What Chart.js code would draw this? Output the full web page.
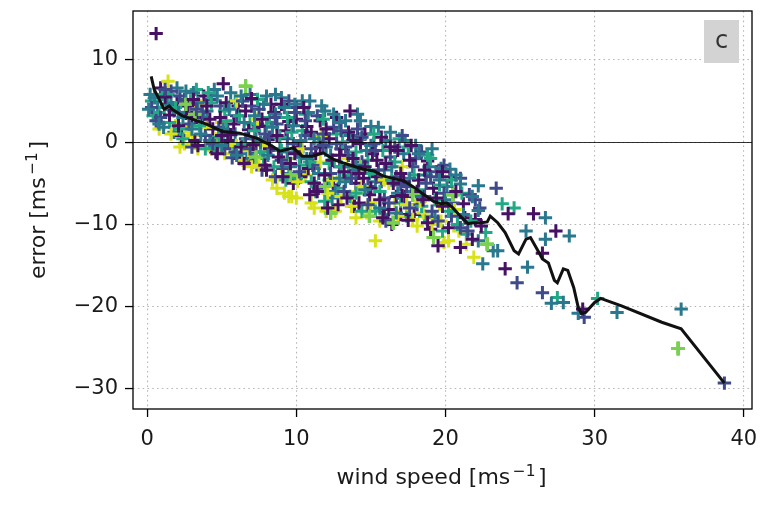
<!DOCTYPE html>
<html><head><meta charset="utf-8">
<script src="https://cdn.jsdelivr.net/npm/chart.js@4"></script>
<style>html,body{margin:0;padding:0;background:#fff}#wrap{width:767px;height:507px;position:relative}</style>
</head><body><div id="wrap"><canvas id="c" width="767" height="507"></canvas></div>
<script>
// ---- tick labels / axis text ----
const xTickValues = [0, 10, 20, 30, 40];
const yTickValues = [-30, -20, -10, 0, 10];
const xTitleBase = 'wind speed [ms';
const yTitleBase = 'error [ms';
const unitSup = '\u22121';
const unitClose = ']';
const panelLabel = 'c';

// ---- running mean line ----
const meanSpeed = [0.27,0.47,0.81,1.14,1.48,1.68,2.36,3.03,3.97,5.05,6.2,7.34,8.4,8.9,9.8,10.4,11.1,11.8,12.5,13.1,13.8,14.5,15.2,15.8,16.5,17.2,17.9,18.5,19.2,19.7,20.1,20.5,21.0,21.5,21.9,22.4,22.8,23.0,23.5,24.0,24.6,24.9,25.4,25.7,26.2,26.5,26.9,27.3,27.5,27.9,28.2,28.6,28.9,29.1,29.4,30.0,30.4,31.8,34.5,35.8,38.7];
const meanError = [8.0,6.4,5.2,4.0,4.4,4.0,3.2,2.8,2.2,1.3,1.1,0.5,-0.5,-1.1,-0.7,-1.7,-1.7,-1.3,-2.1,-2.5,-2.9,-3.3,-3.5,-4.1,-4.4,-4.7,-5.5,-6.3,-7.2,-7.5,-7.4,-8.0,-9.0,-9.9,-9.8,-9.8,-9.7,-9.0,-9.8,-11.0,-13.2,-13.6,-11.8,-11.6,-13.2,-14.2,-14.7,-16.8,-17.1,-15.4,-15.6,-17.7,-20.1,-20.8,-20.7,-19.5,-19.0,-19.9,-21.9,-22.7,-29.3];

// ---- scatter points, grouped by colour class: [wind speed, error] ----
const purplePts = [[0.6,13.2],[5.1,7.1],[13.6,3.8],[9.0,4.6],[1.2,5.5],[2.0,4.8],[2.6,3.5],[3.1,5.2],[3.6,2.4],[4.0,4.4],[4.4,1.6],[4.9,3.0],[5.4,0.2],[5.8,2.2],[6.3,-0.6],[6.1,4.4],[6.8,1.5],[7.0,5.3],[7.3,-1.2],[7.7,2.8],[8.1,0.3],[8.5,3.6],[8.8,-1.8],[9.3,1.4],[9.6,-2.6],[10.0,2.8],[10.2,-0.6],[10.5,4.2],[10.8,-3.2],[11.0,1.2],[11.3,-1.4],[11.6,2.6],[11.9,-4.0],[12.2,0.4],[12.4,-2.2],[12.7,3.0],[13.0,-0.8],[13.2,-3.6],[13.5,1.2],[13.8,-2.0],[14.0,-5.0],[14.3,-0.2],[14.6,-3.0],[14.9,-6.4],[15.1,-1.4],[15.4,-4.2],[15.7,0.6],[16.0,-2.6],[16.2,-8.2],[16.5,-5.0],[16.4,-10.0],[16.8,-1.0],[17.0,-3.8],[17.3,-6.6],[17.6,-2.2],[17.9,-8.8],[18.2,-4.6],[18.5,-7.0],[18.8,-2.3],[18.8,-9.8],[19.2,-5.6],[19.5,-12.6],[19.8,-7.8],[20.3,-4.2],[21.0,-12.8],[21.2,-7.5],[22.0,-9.4],[24.2,-8.7],[24.0,-15.4],[25.9,-8.7],[26.5,-13.5],[27.4,-10.8],[29.2,-20.3],[2.3,0.8],[3.4,-0.4],[4.6,-1.2],[6.5,-2.6],[8.0,-3.4],[9.8,-5.0],[11.4,-6.0],[12.8,-7.6],[14.2,-7.4],[15.8,-9.2],[17.5,-9.5],[17.1,-6.5]];
const purpleMore = [[0.9,6.6],[1.5,3.3],[2.1,2.0],[2.7,4.4],[3.2,0.2],[3.8,5.6],[4.2,2.8],[4.7,-1.4],[5.3,4.8],[5.6,0.9],[6.2,-2.0],[6.6,3.8],[7.1,-0.3],[7.5,1.9],[7.9,-2.8],[8.3,4.6],[8.7,0.8],[9.1,-4.2],[9.5,2.5],[9.9,-1.4],[10.3,-4.2],[10.7,1.9],[11.2,-5.0],[11.6,-0.6],[12.0,1.6],[12.5,-5.2],[12.9,-1.6],[13.4,-6.8],[13.8,0.2],[14.2,-3.8],[14.6,1.0],[15.0,-5.6],[15.4,-2.2],[15.9,-8.2],[16.3,-0.6],[16.7,-6.6],[17.2,-4.8],[17.7,-0.4],[18.1,-6.0],[18.6,-3.4],[19.0,-10.6],[19.4,-6.8],[19.8,-3.6],[20.2,-10.4],[20.7,-6.0],[21.3,-9.2],[21.8,-11.8],[22.4,-10.2],[10.9,-6.4],[12.1,-8.0],[13.9,-7.8],[8.2,-0.8],[5.0,0.8],[3.0,3.0],[15.6,-7.0],[17.0,-8.8],[14.5,-4.4]];
const bluePts = [[0.3,4.2],[0.9,3.0],[1.6,6.2],[2.2,5.6],[2.8,2.2],[3.3,4.0],[3.9,0.8],[4.3,5.2],[4.8,1.8],[5.2,-0.8],[5.7,-1.9],[6.0,3.2],[6.6,0.4],[7.1,-2.4],[7.5,4.0],[7.9,1.0],[8.3,-1.0],[8.7,2.2],[9.1,-3.2],[9.4,0.4],[9.9,3.6],[10.3,-1.8],[10.6,0.8],[11.1,-2.8],[11.4,3.2],[11.8,-0.4],[12.1,-5.2],[12.5,1.8],[12.9,-3.0],[13.3,-0.6],[13.7,-4.4],[14.1,1.6],[14.4,-2.4],[14.8,-5.4],[15.2,-0.2],[15.5,-3.4],[15.9,-6.8],[16.3,-1.8],[16.7,-4.2],[17.1,0.8],[17.4,-5.4],[17.8,-3.0],[18.1,-7.6],[18.4,-1.2],[18.7,-5.0],[19.1,-8.4],[19.4,-3.6],[19.9,-6.2],[20.4,-9.0],[21.0,-10.4],[21.6,-6.4],[22.3,-8.0],[23.4,-5.6],[24.8,-17.1],[26.5,-18.3],[29.3,-21.3],[38.7,-29.3],[6.7,-2.3],[8.6,-4.2]];
const blueMore = [[0.6,2.6],[1.2,6.4],[1.8,3.8],[2.5,5.2],[3.0,-0.6],[3.7,3.6],[4.4,-0.2],[4.9,4.4],[5.4,1.4],[5.9,-1.2],[6.4,5.0],[6.9,-0.8],[7.4,2.2],[7.7,-3.4],[8.2,0.6],[8.6,3.0],[9.0,-2.2],[9.5,5.0],[9.8,-0.2],[10.2,-3.6],[10.6,2.6],[11.0,-0.8],[11.5,-5.6],[11.8,1.0],[12.3,-3.8],[12.7,-0.2],[13.2,-6.0],[13.5,-1.6],[14.0,-3.4],[14.4,0.6],[14.8,-7.6],[15.3,-1.0],[15.7,-4.8],[16.2,-7.4],[16.6,-0.6],[17.0,-5.2],[17.6,-8.0],[18.0,-2.0],[18.6,-6.6],[19.0,-4.2],[19.5,-9.6],[19.9,-2.8],[20.5,-7.4],[21.0,-4.4],[21.5,-10.8],[22.0,-7.0],[13.0,1.4],[10.0,4.2],[7.0,4.4],[16.0,-9.6]];
const tealPts = [[0.1,4.0],[0.5,5.4],[0.8,2.2],[1.3,4.6],[1.8,1.2],[2.1,3.6],[2.6,6.2],[3.0,1.6],[3.4,4.8],[3.8,3.0],[4.2,0.2],[4.7,5.6],[5.0,-0.4],[5.5,4.0],[5.9,1.0],[6.3,5.6],[6.7,-1.4],[7.2,3.2],[7.6,0.0],[8.0,5.6],[8.4,1.8],[8.6,5.8],[8.9,-0.8],[9.2,4.2],[9.5,-3.8],[9.8,2.0],[10.1,-1.2],[10.4,5.0],[10.7,-2.0],[10.9,5.0],[11.2,0.4],[11.5,-3.8],[11.9,3.8],[12.3,-1.6],[12.6,-6.0],[12.9,2.4],[13.3,-4.8],[13.6,0.8],[14.0,-2.8],[14.3,2.6],[14.7,-1.0],[15.0,1.9],[15.3,-4.8],[15.6,-8.0],[16.0,0.2],[16.4,-3.0],[16.8,-6.2],[17.2,-1.4],[17.6,-4.4],[18.0,-0.4],[18.4,-6.6],[18.9,-3.0],[19.3,-9.2],[19.6,-4.6],[20.0,-7.0],[20.3,-3.3],[21.0,-5.1],[22.2,-5.3],[22.2,-8.3],[22.2,-12.0],[22.5,-14.8],[23.2,-13.2],[23.5,-13.2],[25.4,-10.8],[25.5,-15.2],[26.7,-9.2],[26.7,-11.8],[28.3,-11.4],[27.1,-19.6],[27.9,-19.5],[28.9,-20.8],[31.5,-20.7],[35.8,-20.3]];
const tealMore = [[0.2,5.8],[0.7,4.2],[1.1,1.8],[1.6,4.8],[2.0,6.6],[2.4,3.0],[3.1,6.0],[3.6,1.0],[4.0,3.8],[4.5,6.4],[5.1,1.6],[5.6,6.0],[6.0,-1.6],[6.5,2.4],[6.9,5.8],[7.3,0.4],[7.8,4.6],[8.1,-1.6],[8.6,3.4],[9.0,5.4],[9.4,-1.2],[9.9,4.6],[10.3,0.2],[10.8,3.6],[11.2,-3.2],[11.7,4.4],[12.0,-0.6],[12.5,3.4],[12.9,-4.4],[13.3,2.6],[13.8,-3.0],[14.1,3.4],[14.6,-5.8],[15.0,-0.4],[15.5,1.8],[15.9,-3.4],[16.3,1.2],[16.7,-8.6],[17.3,0.2],[17.7,-6.0],[18.2,-1.4],[18.7,-4.0],[19.1,-0.8],[19.7,-3.2],[20.1,-5.4],[20.7,-4.0],[21.2,-8.8],[21.8,-6.6],[9.6,-3.0],[12.4,-6.8]];
const greenPts = [[0.4,3.2],[1.0,5.8],[1.5,2.4],[1.9,4.2],[2.4,0.4],[2.9,5.0],[3.5,2.0],[4.1,6.0],[4.5,-0.6],[5.3,2.6],[5.9,5.0],[6.4,-0.2],[6.9,2.2],[7.4,5.2],[7.8,-2.0],[8.2,3.0],[8.9,0.6],[9.3,-4.6],[9.7,1.2],[10.2,-2.8],[10.6,3.4],[11.0,-4.8],[11.5,0.0],[11.9,-7.2],[12.2,-2.6],[12.8,-5.6],[13.1,0.0],[13.6,-6.6],[14.0,-1.2],[14.4,-8.4],[14.9,-3.8],[15.2,1.0],[15.6,-6.0],[16.1,-9.4],[16.6,-2.4],[17.0,-7.4],[17.5,-0.6],[18.2,-5.8],[18.6,-9.0],[19.0,-2.0],[19.6,-5.2],[20.2,-8.4],[20.8,-10.0],[21.4,-11.2],[23.8,-7.5],[27.5,-18.9],[30.2,-19.0],[24.6,-8.0]];
const greenMore = [[0.3,5.0],[0.8,3.6],[1.4,5.8],[2.2,1.6],[2.8,3.6],[3.3,6.4],[3.9,-0.8],[4.3,4.8],[4.8,0.6],[5.2,3.8],[5.8,-0.6],[6.2,3.2],[6.8,-2.2],[7.2,1.4],[7.6,-1.2],[8.0,2.0],[8.5,-3.0],[9.0,-1.0],[9.4,3.0],[10.0,-4.4],[10.4,1.4],[10.9,-2.4],[11.3,-6.0],[11.8,2.8],[12.2,-4.6],[12.7,1.0],[13.0,-3.0],[13.5,-4.0],[14.0,-6.2],[14.3,0.4],[14.8,-2.2],[15.3,-8.4],[15.8,-1.0],[16.4,-4.6],[16.9,0.4],[17.4,-9.0],[17.9,-4.0],[18.4,-7.8],[18.8,-1.6],[19.3,-7.0],[19.8,-10.8],[20.4,-4.6],[21.1,-6.2],[21.7,-9.6],[22.7,-11.0]];
const limePts = [[1.1,4.0],[1.7,5.2],[2.3,2.8],[2.7,-0.4],[3.2,3.4],[3.7,0.6],[4.6,3.6],[5.5,5.6],[6.1,-1.0],[6.6,6.8],[7.0,0.8],[7.8,3.8],[8.3,-2.6],[9.0,1.8],[9.6,-4.0],[10.1,-5.6],[10.8,-1.6],[11.3,2.2],[11.7,-6.6],[12.3,-8.6],[12.6,-3.8],[13.2,-8.0],[13.9,-5.2],[14.5,-2.0],[14.9,-9.0],[15.6,-2.8],[16.1,-5.6],[16.9,-8.4],[17.3,-3.2],[17.8,-6.4],[18.3,-2.8],[18.9,-5.6],[19.4,-10.6],[20.0,-3.0],[20.5,-6.4],[21.5,-12.6],[22.5,-6.8],[24.2,-12.8],[31.4,-18.3],[35.6,-25.1]];
const limeMore = [[0.5,3.0],[0.9,4.8],[1.3,2.0],[2.0,-0.2],[2.6,4.6],[3.3,1.4],[3.6,-0.6],[4.0,1.0],[4.4,5.8],[4.9,-0.4],[5.4,-1.6],[5.7,3.0],[6.3,0.6],[6.8,-3.2],[7.3,-1.8],[7.7,1.2],[8.1,-3.8],[8.6,-1.4],[8.9,-5.2],[9.4,-2.0],[9.9,0.6],[10.5,-6.2],[10.9,-0.6],[11.4,-3.2],[11.9,-5.4],[12.4,-7.2],[12.9,-2.6],[13.4,-5.6],[13.8,-8.6],[14.3,-3.0],[14.7,-6.6],[15.1,-10.0],[15.5,-4.4],[16.0,-7.8],[16.5,-9.8],[17.1,-5.6],[17.6,-10.2],[18.0,-4.8],[18.7,-8.0],[19.2,-11.6],[19.8,-6.4],[20.3,-11.4],[20.9,-8.4],[21.6,-9.8],[22.8,-12.4]];
const yellowPts = [[1.4,7.4],[1.9,2.0],[2.4,1.2],[2.5,-0.2],[3.0,0.8],[3.9,1.8],[4.3,-0.8],[5.0,2.4],[6.0,-0.4],[7.4,2.8],[7.0,-3.0],[8.4,-4.6],[9.2,-6.2],[9.7,-6.6],[10.1,-4.8],[10.4,-0.8],[11.0,-7.4],[11.7,0.7],[12.0,-8.4],[12.4,-4.6],[13.0,-6.6],[13.4,-2.0],[14.2,-6.0],[14.7,-8.6],[15.3,-12.0],[15.9,-4.6],[16.6,-7.4],[17.1,-3.0],[17.8,-9.4],[18.3,-7.2],[19.7,-9.6],[19.9,-12.2],[21.9,-14.0],[20.6,-8.2]];
const yellowMore = [[0.8,1.6],[1.6,1.0],[2.2,-0.6],[2.9,1.8],[3.4,-0.8],[4.1,-0.4],[4.6,0.4],[5.2,-1.4],[5.6,-0.2],[6.4,-2.2],[6.8,-1.0],[7.5,-2.8],[7.9,-0.4],[8.7,-5.6],[9.0,-3.0],[9.5,-6.6],[10.0,-6.8],[10.6,-4.0],[11.2,-8.0],[11.6,-2.4],[12.1,-6.2],[12.6,-8.4],[13.1,-4.2],[13.7,-7.8],[14.0,-9.2],[14.4,-5.4],[15.0,-7.4],[15.6,-9.6],[16.2,-5.0],[16.8,-9.0],[17.4,-7.6],[18.1,-10.2],[18.5,-8.6],[19.1,-10.0],[19.6,-7.6],[20.2,-12.0],[20.9,-10.8],[21.4,-12.4],[3.6,4.4],[6.0,5.0]];

const groups = [
  purplePts.concat(purpleMore), bluePts.concat(blueMore), tealPts.concat(tealMore),
  greenPts.concat(greenMore), limePts.concat(limeMore), yellowPts.concat(yellowMore)
];
const groupColors = ['#461163', '#3e4a89', '#2a788e', '#22a884', '#7ad151', '#d8e219'];

// interleave groups so colours overlap like a single scatter collection
const scatterData = [], scatterColors = [];
const maxLen = Math.max(...groups.map(g => g.length));
for (let i = 0; i < maxLen; i++) {
  for (let g = 0; g < groups.length; g++) {
    if (i < groups[g].length) {
      const k = (i * 5 + g * 11) % groups[g].length;
      scatterData.push({x: groups[g][k][0], y: groups[g][k][1]});
      scatterColors.push(groupColors[g]);
    }
  }
}
const meanData = meanSpeed.map((s, i) => ({x: s, y: meanError[i]}));

const FONT = "'DejaVu Sans', sans-serif";
const TXT = '#1a1a1a';

function drawUnitLabel(ctx, base, x, y, angle) {
  const bf = '22px ' + FONT, sf = '15.4px ' + FONT, gap = 2.5;
  ctx.save();
  ctx.translate(x, y);
  ctx.rotate(angle);
  ctx.fillStyle = TXT;
  ctx.textAlign = 'left';
  ctx.textBaseline = 'alphabetic';
  ctx.font = bf;
  const w1 = ctx.measureText(base).width, w3 = ctx.measureText(unitClose).width;
  ctx.font = sf;
  const w2 = ctx.measureText(unitSup).width;
  let cx = -(w1 + gap + w2 + gap + w3) / 2;
  ctx.font = bf; ctx.fillText(base, cx, 0); cx += w1 + gap;
  ctx.font = sf; ctx.fillText(unitSup, cx, -8.5); cx += w2 + gap;
  ctx.font = bf; ctx.fillText(unitClose, cx, 0);
  ctx.restore();
}

const decor = {
  id: 'decor',
  afterDatasetDraw(chart, args) {
    if (args.index !== 1) return;
    const {ctx, chartArea: a, scales: {y}} = chart;
    const py = Math.round(y.getPixelForValue(0)) + 0.5;
    ctx.save();
    ctx.strokeStyle = 'rgba(0,0,0,0.8)';
    ctx.lineWidth = 1.2;
    ctx.beginPath(); ctx.moveTo(a.left, py); ctx.lineTo(a.right, py); ctx.stroke();
    ctx.restore();
  },
  afterDraw(chart) {
    const {ctx, chartArea: a} = chart;
    ctx.save();
    ctx.strokeStyle = '#000';
    ctx.lineWidth = 1.3;
    ctx.strokeRect(a.left, a.top, a.right - a.left, a.bottom - a.top);
    const bw = 35, bh = 43, bx = a.right - 13 - bw, by = a.top + 9;
    ctx.fillStyle = '#d3d3d3';
    ctx.fillRect(bx, by, bw, bh);
    ctx.fillStyle = '#333';
    ctx.font = "24px " + FONT;
    ctx.textAlign = 'center';
    ctx.textBaseline = 'middle';
    ctx.fillText(panelLabel, bx + bw / 2, by + bh / 2);
    ctx.restore();
    // axis titles with superscript units
    drawUnitLabel(ctx, xTitleBase, (a.left + a.right) / 2 - 1, 484, 0);
    drawUnitLabel(ctx, yTitleBase, 45, (a.top + a.bottom) / 2, -Math.PI / 2);
  }
};

new Chart(document.getElementById('c'), {
  type: 'scatter',
  data: {
    datasets: [
      {
        type: 'scatter', data: meanData, showLine: true,
        borderColor: '#111', borderWidth: 3, pointRadius: 0, tension: 0, fill: false
      },
      {
        type: 'scatter', data: scatterData,
        pointStyle: 'cross', pointRadius: 6.7, pointBorderWidth: 3,
        pointBorderColor: scatterColors, pointBackgroundColor: scatterColors,
        showLine: false
      }
    ]
  },
  options: {
    responsive: false, animation: false, devicePixelRatio: 1,
    layout: {padding: {left: 0, right: 15, top: 11, bottom: 0}},
    plugins: {legend: {display: false}, tooltip: {enabled: false}},
    scales: {
      x: {
        type: 'linear', min: -0.95, max: 40.55,
        afterFit: s => { s.height = 98; s.paddingLeft = 0; s.paddingRight = 0; },
        afterBuildTicks: s => { s.ticks = xTickValues.map(v => ({value: v})); },
        ticks: {font: {family: FONT, size: 21}, color: TXT, padding: 10, includeBounds: false, maxRotation: 0},
        grid: {color: 'rgba(170,170,170,0.85)', lineWidth: 1.1, tickColor: '#000', tickLength: 8, tickWidth: 1.3},
        border: {display: false, dash: [1.6, 3.2]},
        title: {display: false}
      },
      y: {
        type: 'linear', min: -32.45, max: 15.95,
        afterFit: s => { s.width = 133; s.paddingTop = 0; s.paddingBottom = 0; },
        afterBuildTicks: s => { s.ticks = yTickValues.map(v => ({value: v})); },
        ticks: {font: {family: FONT, size: 21}, color: TXT, padding: 7, includeBounds: false,
          callback: v => (v < 0 ? '\u2212' + Math.abs(v) : String(v))},
        grid: {color: 'rgba(170,170,170,0.85)', lineWidth: 1.1, tickColor: '#000', tickLength: 8, tickWidth: 1.3},
        border: {display: false, dash: [1.6, 3.2]},
        title: {display: false}
      }
    }
  },
  plugins: [decor]
});
</script></body></html>
